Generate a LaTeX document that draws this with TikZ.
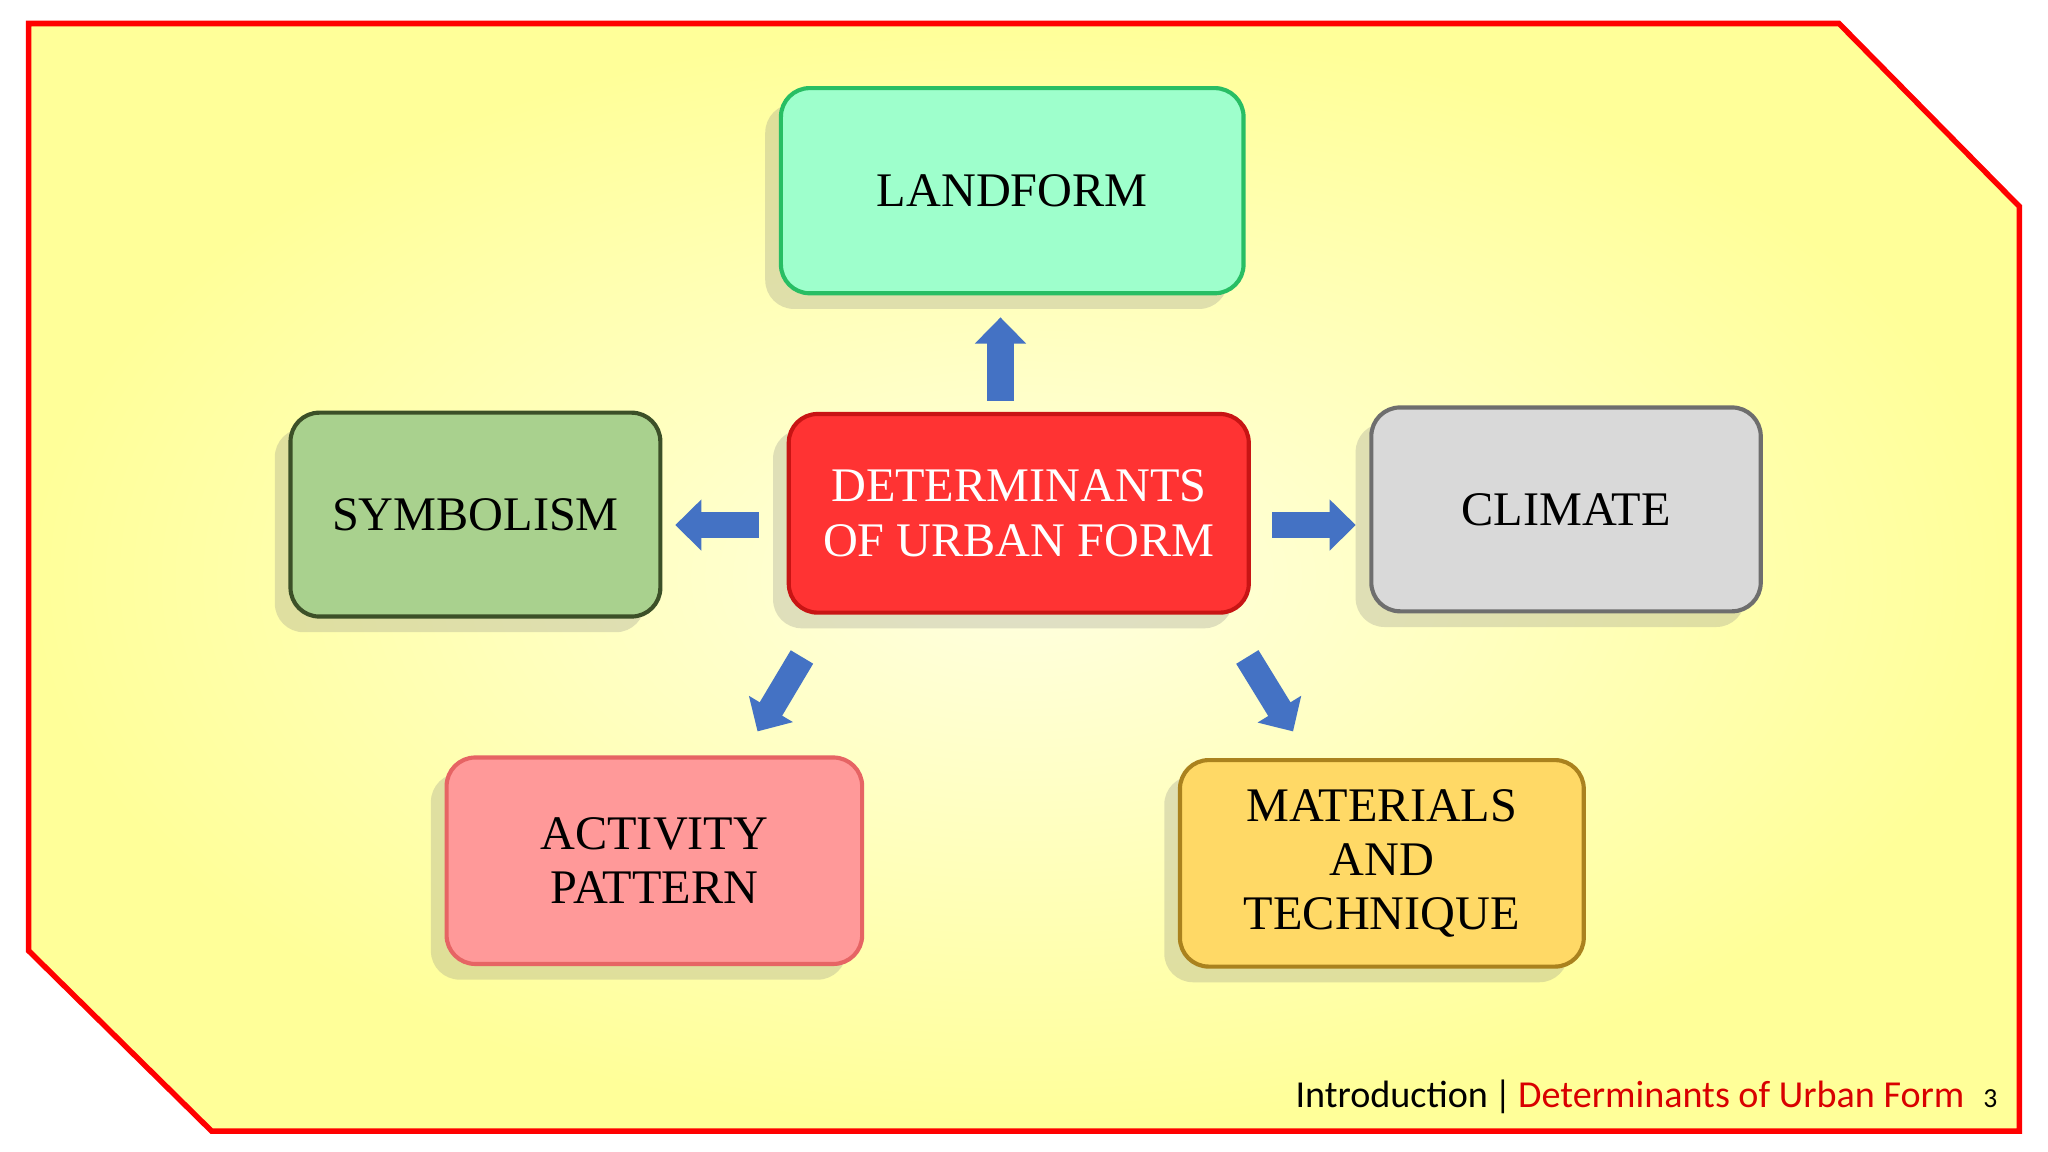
\documentclass[tikz,border=0pt]{standalone}
\usepackage{fontspec}
\setmainfont{Liberation Serif}
\newfontfamily\footfont{Carlito}
\usetikzlibrary{shadows,arrows.meta}
\definecolor{ablue}{HTML}{4472C4}
\tikzset{
 box/.style={draw, line width=0.9pt, rounded corners=0.22cm, align=center, font=\fontsize{10.5}{11.8}\selectfont, drop shadow={shadow xshift=-0.12cm, shadow yshift=-0.12cm, opacity=0.25}},
 barrow/.style={ablue, line width=0.2cm, -{Triangle[width=0.38cm,length=0.2cm]}}
}
\begin{document}
\begin{tikzpicture}[x=0.01cm,y=-0.01cm]
\useasboundingbox (0,0) rectangle (1568,882);
\fill[white] (0,0) rectangle (1568,882);
\shade[inner color=yellow!12, outer color=yellow!40] (22,18) -- (1408,18) -- (1546,158) -- (1546,866) -- (162,866) -- (22,728) -- cycle;
\draw[red, line width=1.2pt] (22,18) -- (1408,18) -- (1546,158) -- (1546,866) -- (162,866) -- (22,728) -- cycle;

\node[box, fill={rgb,255:red,158;green,255;blue,204}, draw={rgb,255:red,40;green,190;blue,100}, minimum width=3.54cm, minimum height=1.57cm] (land) at (775,146) {LANDFORM};
\node[box, fill={rgb,255:red,169;green,209;blue,142}, draw={rgb,255:red,60;green,80;blue,40}, minimum width=2.83cm, minimum height=1.56cm] (sym) at (364,394) {SYMBOLISM};
\node[box, fill={rgb,255:red,255;green,51;blue,51}, draw={rgb,255:red,200;green,20;blue,20}, text=white, minimum width=3.52cm, minimum height=1.52cm] (det) at (780,393) {DETERMINANTS\\OF URBAN FORM};
\node[box, fill={rgb,255:red,217;green,217;blue,217}, draw={rgb,255:red,110;green,110;blue,110}, minimum width=2.98cm, minimum height=1.56cm] (clim) at (1199,390) {CLIMATE};
\node[box, fill={rgb,255:red,255;green,153;blue,153}, draw={rgb,255:red,230;green,100;blue,100}, minimum width=3.18cm, minimum height=1.58cm] (act) at (501,659) {ACTIVITY\\PATTERN};
\node[box, fill={rgb,255:red,255;green,217;blue,102}, draw={rgb,255:red,170;green,130;blue,30}, minimum width=3.09cm, minimum height=1.58cm] (mat) at (1058,661) {MATERIALS\\AND\\TECHNIQUE};

\coordinate (u1) at (766,307); \coordinate (u2) at (766,243);
\coordinate (l1) at (581,402); \coordinate (l2) at (517,402);
\coordinate (r1) at (974,402); \coordinate (r2) at (1038,402);
\coordinate (dl1) at (614,503); \coordinate (dl2) at (580,560);
\coordinate (dr1) at (955,503); \coordinate (dr2) at (990,560);
\draw[barrow] (u1) -- (u2);
\draw[barrow] (l1) -- (l2);
\draw[barrow] (r1) -- (r2);
\draw[barrow] (dl1) -- (dl2);
\draw[barrow] (dr1) -- (dr2);

\node[anchor=east, font=\footfont\fontsize{8.3}{10}\selectfont, inner sep=0pt] (foot) at (1530,840) {Introduction\,|\,\textcolor{red!85!black}{Determinants of Urban Form}\enspace{\fontsize{6}{7}\selectfont 3}};
\end{tikzpicture}
\end{document}
